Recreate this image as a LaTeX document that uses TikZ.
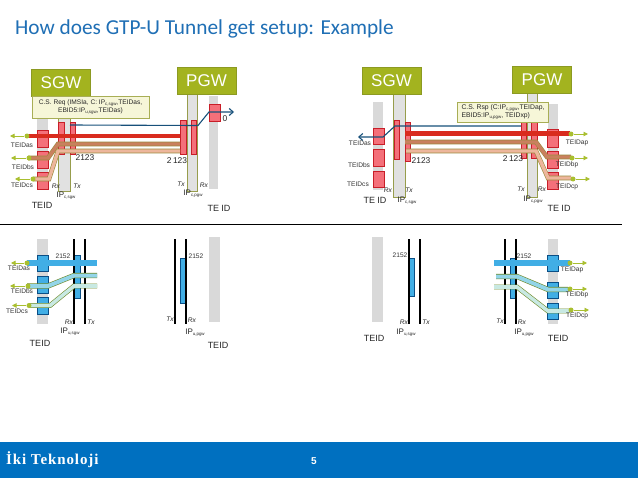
\documentclass[tikz,border=0pt]{standalone}
\usepackage{fontspec}
\setmainfont{Liberation Sans}
\newfontfamily\titlefont{Carlito}
\newfontfamily\footfont[LetterSpace=6]{Liberation Serif}
\usetikzlibrary{arrows.meta}
\definecolor{olivefill}{HTML}{A3B31F}
\definecolor{oliveedge}{HTML}{8C9A22}
\definecolor{noteedge}{HTML}{A8AE55}
\definecolor{notefill}{HTML}{F6F6D8}
\definecolor{redfill}{HTML}{F4707A}
\definecolor{rededge}{HTML}{C81E28}
\definecolor{redband}{HTML}{D92B1E}
\definecolor{brownband}{HTML}{C9805E}
\definecolor{peachband}{HTML}{EDB69C}
\definecolor{bandedge}{HTML}{9A8A3C}
\definecolor{bluefill}{HTML}{41AEE5}
\definecolor{blueedge}{HTML}{0A4F86}
\definecolor{band2}{HTML}{93D5E8}
\definecolor{band3}{HTML}{C8E9E2}
\definecolor{greenedge}{HTML}{6F8A2A}
\definecolor{grayfill}{HTML}{D9D9D9}
\definecolor{navyline}{HTML}{17507A}
\definecolor{arrowgreen}{HTML}{A9BF2F}
\definecolor{footblue}{HTML}{0070C0}
\definecolor{titleblue}{HTML}{1F6FB5}
\tikzset{
  gw/.style={draw=oliveedge,line width=.8pt,fill=olivefill,text=white,font=\fontsize{17}{17}\selectfont,inner sep=0pt,minimum width=59pt,minimum height=27pt},
  note/.style={draw=noteedge,line width=.6pt,fill=notefill,font=\fontsize{6.6}{8.4}\selectfont,inner sep=1pt,align=center,text=black!85},
  lab/.style={font=\fontsize{6.6}{7}\selectfont,inner sep=0pt,text=black!80},
  num/.style={font=\fontsize{8.4}{9}\selectfont,inner sep=0pt,text=black!85},
  numsm/.style={font=\fontsize{6.6}{7}\selectfont,inner sep=0pt,text=black!80},
  teid/.style={font=\fontsize{9}{10}\selectfont,inner sep=0pt,text=black!85},
  ip/.style={font=\fontsize{8}{9}\selectfont,inner sep=0pt,text=black!85},
  rxtx/.style={font=\fontsize{6.6}{7}\itshape\selectfont,inner sep=0pt,text=black!85},
  graybar/.style={fill=grayfill,draw=none},
  ipbar/.style={fill=grayfill!80!white,draw=noteedge!90!black,line width=.6pt},
  redrect/.style={fill=redfill,draw=rededge,line width=1pt},
  bluerect/.style={fill=bluefill,draw=blueedge,line width=1pt},
  blackline/.style={draw=black,line width=1.1pt},
  bandA/.style={draw=redband,line width=4.6pt},
  bandB/.style={preaction={draw=bandedge,line width=4.6pt},draw=brownband,line width=3.4pt},
  bandC/.style={preaction={draw=bandedge,line width=4.6pt},draw=peachband,line width=3.4pt},
  bandD/.style={preaction={draw=greenedge,line width=6.4pt},draw=bluefill,line width=5.2pt},
  bandE/.style={preaction={draw=greenedge,line width=5.2pt},draw=band2,line width=4pt},
  bandF/.style={preaction={draw=greenedge,line width=4.8pt},draw=band3,line width=3.6pt},
  gout/.style={draw=arrowgreen,line width=.9pt,-{Triangle[length=4.5pt,width=4.5pt]}},
  dot/.style={circle,fill=arrowgreen,draw=none,inner sep=0pt,minimum size=5pt},
  navy/.style={draw=navyline,line width=1.1pt},
}
\newcommand{\subip}[1]{IP\raisebox{-1.2pt}{\fontsize{4.4}{5}\selectfont #1}}
\begin{document}
\begin{tikzpicture}[x=1pt,y=-1pt]
\useasboundingbox (0,0) rectangle (638,479);
\fill[white] (0,0) rectangle (638,479);
\node[anchor=west,inner sep=0pt,text=titleblue,font=\titlefont\fontsize{21.3}{22}\selectfont] (title) at (15,29) {How does GTP-U Tunnel get setup: Example};
\draw[black,line width=1pt] (0,224) coordinate (sepL) -- (622,224) coordinate (sepR);
\fill[footblue] (0,441.5) rectangle (638,478);
\node[anchor=west,inner sep=0pt,text=white,font=\footfont\bfseries\fontsize{15}{16}\selectfont] (foot) at (6,460) {İki Teknoloji};
\node[inner sep=0pt,text=white,font=\bfseries\fontsize{10}{11}\selectfont] (page) at (314,461) {5};
% ===== top left =====
\fill[graybar] (37,118) rectangle (48,189);
\fill[graybar] (209,96) rectangle (218,189);
\filldraw[ipbar] (58,96) rectangle (70,191);
\filldraw[ipbar] (187,94) rectangle (197,191);
\filldraw[redrect] (37,130) rectangle (48,147);
\filldraw[redrect] (37,151) rectangle (48,168);
\filldraw[redrect] (37,172) rectangle (48,189);
\filldraw[redrect] (58.5,122) rectangle (64,154);
\filldraw[redrect] (70,122) rectangle (75,154);
\filldraw[redrect] (180.5,120) rectangle (186,154);
\filldraw[redrect] (191,120) rectangle (196.5,154);
\filldraw[redrect] (209,104) rectangle (220,121);
\coordinate (a1) at (27,136); \coordinate (a2) at (180,136);
\coordinate (b0) at (28,158); \coordinate (b1) at (48,158); \coordinate (b2) at (58,144); \coordinate (b3) at (180,144);
\coordinate (c0) at (33,179); \coordinate (c1) at (49,179); \coordinate (c2) at (58,151); \coordinate (c3) at (180,151);
\draw[bandA] (a1) -- (a2);
\draw[bandB] (b0) -- (b1) -- (b2) -- (b3);
\draw[bandC] (c0) -- (c1) -- (c2) -- (c3);
\coordinate (n0) at (70,125); \coordinate (n1) at (198,125.5); \coordinate (n2) at (209,112); \coordinate (n3) at (234,112);
\draw[navy,-{Straight Barb[length=4pt,width=7pt]}] (n0) -- (n1) -- (n2) -- (n3);
\node[dot] (d1) at (27,136) {}; \node[dot] (d2) at (29,158) {}; \node[dot] (d3) at (33,179) {};
\coordinate (e1) at (10,136); \coordinate (e2) at (11,158); \coordinate (e3) at (15,179);
\draw[gout] (d1) -- (e1); \draw[gout] (d2) -- (e2); \draw[gout] (d3) -- (e3);
\node[gw] (sgwA) at (61,82.5) {SGW};
\node[gw] (pgwA) at (206.5,80.5) {PGW};
\node[note,minimum width=117pt,minimum height=22pt] (noteA) at (90.5,107) {C.S. Req (IMSIa, C: \subip{c,sgw},TEIDas,\\EBID5:\subip{u,sgw},TEIDas)};
\node[lab] (l1) at (22,145) {TEIDas};
\node[lab] (l2) at (23,167) {TEIDbs};
\node[lab] (l3) at (22,185) {TEIDcs};
\node[num] (l4) at (85,158) {2123};
\node[num] (l5) at (177,161) {2\,123};
\node[num] (l6) at (225,119) {0};
\node[rxtx] (l7) at (56,186) {Rx}; \node[rxtx] (l8) at (77,186) {Tx};
\node[rxtx] (l9) at (181,184) {Tx}; \node[rxtx] (l10) at (204,185) {Rx};
\node[ip] (l11) at (66,196) {\subip{c,sgw}};
\node[ip] (l12) at (193,194) {\subip{c,pgw}};
\node[teid] (l13) at (42,205) {TEID};
\node[teid] (l14) at (219,208) {TE ID};
% ===== top right =====
\fill[graybar] (373,102) rectangle (383,190);
\fill[graybar] (548,104) rectangle (558,190);
\filldraw[ipbar] (393,94) rectangle (405,197);
\filldraw[ipbar] (527,93) rectangle (537,197);
\filldraw[redrect] (373,128) rectangle (384,144);
\filldraw[redrect] (373,149) rectangle (384,166);
\filldraw[redrect] (373,171) rectangle (384,187);
\filldraw[redrect] (394,120) rectangle (399,159);
\filldraw[redrect] (405,122) rectangle (410,161);
\filldraw[redrect] (521,122) rectangle (526,158);
\filldraw[redrect] (531.5,122) rectangle (537,158);
\filldraw[redrect] (547.5,129) rectangle (558.5,147);
\filldraw[redrect] (547.5,151) rectangle (558.5,168);
\filldraw[redrect] (547.5,172) rectangle (558.5,189);
\coordinate (f1) at (405,133.5); \coordinate (f2) at (570,133.5);
\coordinate (g0) at (405,142); \coordinate (g1) at (536,142); \coordinate (g2) at (547,157); \coordinate (g3) at (571,157);
\coordinate (h0) at (406,151); \coordinate (h1) at (536,151); \coordinate (h2) at (548,178); \coordinate (h3) at (571,178);
\draw[bandA] (f1) -- (f2);
\draw[bandB] (g0) -- (g1) -- (g2) -- (g3);
\draw[bandC] (h0) -- (h1) -- (h2) -- (h3);
\coordinate (m0) at (521,126); \coordinate (m1) at (395,126); \coordinate (m2) at (383,137); \coordinate (m3) at (358,137);
\draw[navy,-{Straight Barb[length=4pt,width=7pt]}] (m0) -- (m1) -- (m2) -- (m3);
\node[dot] (d4) at (571,134) {}; \node[dot] (d5) at (572,158) {}; \node[dot] (d6) at (573,179) {};
\coordinate (e4) at (588,134); \coordinate (e5) at (588,158); \coordinate (e6) at (590,179);
\draw[gout] (d4) -- (e4); \draw[gout] (d5) -- (e5); \draw[gout] (d6) -- (e6);
\node[gw] (sgwB) at (391.5,80.5) {SGW};
\node[gw] (pgwB) at (542,79.5) {PGW};
\node[note,minimum width=91pt,minimum height=20pt,align=left,font=\fontsize{6.8}{8.6}\selectfont] (noteB) at (503,112) {C.S. Rsp (C:\subip{c,pgw},TEIDap,\\EBID5:\subip{u,pgw}, TEIDxp)};
\node[lab] (r1) at (360,143) {TEIDas};
\node[lab] (r2) at (359,165) {TEIDbs};
\node[lab] (r3) at (358,184) {TEIDcs};
\node[num] (r4) at (421,161) {2123};
\node[num] (r5) at (513,159) {2\,123};
\node[rxtx] (r6) at (388,190) {Rx}; \node[rxtx] (r7) at (409,190) {Tx};
\node[rxtx] (r8) at (521,189) {Tx}; \node[rxtx] (r9) at (542,189) {Rx};
\node[ip] (r10) at (407,201) {\subip{c,sgw}};
\node[ip] (r11) at (533,200) {\subip{c,pgw}};
\node[teid] (r12) at (375,200) {TE ID};
\node[teid] (r13) at (559,208) {TE ID};
\node[lab] (r14) at (577,143) {TEIDap};
\node[lab] (r15) at (567,165) {TEIDbp};
\node[lab] (r16) at (567,187) {TEIDcp};
% ===== bottom left =====
\fill[graybar] (37,239) rectangle (48,324);
\fill[graybar] (209,237) rectangle (220,322);
\filldraw[bluerect] (37.5,255) rectangle (48,271);
\filldraw[bluerect] (37.5,276) rectangle (48,293);
\filldraw[bluerect] (37.5,297) rectangle (48,314);
\filldraw[bluerect] (74,255) rectangle (80,298);
\filldraw[bluerect] (180.5,258) rectangle (186,303);
\draw[blackline] (74,239) coordinate (p1) -- (74,324) coordinate (p2);
\draw[blackline] (85,239) coordinate (p3) -- (85,324) coordinate (p4);
\draw[blackline] (175,239) coordinate (p5) -- (175,324) coordinate (p6);
\draw[blackline] (186,239) coordinate (p7) -- (186,324) coordinate (p8);
\coordinate (i1) at (27,263); \coordinate (i2) at (97,263);
\coordinate (j0) at (27,286); \coordinate (j1) at (48,286); \coordinate (j2) at (74,275.5); \coordinate (j3) at (97,275.5);
\coordinate (k0) at (29,305.5); \coordinate (k1) at (50,305.5); \coordinate (k2) at (74,286); \coordinate (k3) at (97,286);
\draw[bandF] (k0) -- (k1) -- (k2) -- (k3);
\draw[bandE] (j0) -- (j1) -- (j2) -- (j3);
\draw[bandD] (i1) -- (i2);
\node[dot] (d7) at (27,263) {}; \node[dot] (d8) at (28,286) {}; \node[dot] (d9) at (29,305.5) {};
\coordinate (e7) at (11,263); \coordinate (e8) at (10,286); \coordinate (e9) at (12,305.5);
\draw[gout] (d7) -- (e7); \draw[gout] (d8) -- (e8); \draw[gout] (d9) -- (e9);
\node[lab] (s1) at (19,268.5) {TEIDas};
\node[lab] (s2) at (22,291) {TEIDbs};
\node[lab] (s3) at (17,311) {TEIDcs};
\node[numsm] (s4) at (63,256) {2152};
\node[numsm] (s5) at (196,256) {2152};
\node[rxtx] (s6) at (69,322) {Rx}; \node[rxtx] (s7) at (91,322) {Tx};
\node[rxtx] (s8) at (170,319) {Tx}; \node[rxtx] (s9) at (192,320) {Rx};
\node[ip] (s10) at (70,332) {\subip{u,sgw}};
\node[ip] (s11) at (195,333) {\subip{u,pgw}};
\node[teid] (s12) at (40,343) {TEID};
\node[teid] (s13) at (218,345) {TEID};
% ===== bottom right =====
\fill[graybar] (372,237) rectangle (383,322);
\fill[graybar] (548,239) rectangle (558,324);
\filldraw[bluerect] (409,258) rectangle (414,296);
\filldraw[bluerect] (510,258) rectangle (516,298);
\filldraw[bluerect] (547.5,255) rectangle (558.5,271);
\filldraw[bluerect] (547.5,282) rectangle (558.5,298);
\filldraw[bluerect] (547.5,303) rectangle (558.5,319);
\draw[blackline] (409,239) coordinate (q1) -- (409,324) coordinate (q2);
\draw[blackline] (420,239) coordinate (q3) -- (420,324) coordinate (q4);
\draw[blackline] (505,239) coordinate (q5) -- (505,324) coordinate (q6);
\draw[blackline] (516,239) coordinate (q7) -- (516,324) coordinate (q8);
\coordinate (t1) at (494,263); \coordinate (t2) at (570,263);
\coordinate (u0) at (496,276.5); \coordinate (u1) at (517,276.5); \coordinate (u2) at (548,289.5); \coordinate (u3) at (568,289.5);
\coordinate (v0) at (494,287); \coordinate (v1) at (517,287); \coordinate (v2) at (548,311); \coordinate (v3) at (569,311);
\draw[bandF] (v0) -- (v1) -- (v2) -- (v3);
\draw[bandE] (u0) -- (u1) -- (u2) -- (u3);
\draw[bandD] (t1) -- (t2);
\node[dot] (d10) at (570,263) {}; \node[dot] (d11) at (570,289) {}; \node[dot] (d12) at (571,310) {};
\coordinate (e10) at (587,263); \coordinate (e11) at (587,289); \coordinate (e12) at (589,310);
\draw[gout] (d10) -- (e10); \draw[gout] (d11) -- (e11); \draw[gout] (d12) -- (e12);
\node[lab] (w1) at (572,270) {TEIDap};
\node[lab] (w2) at (577,295) {TEIDbp};
\node[lab] (w3) at (577,316) {TEIDcp};
\node[numsm] (w4) at (400,255) {2152};
\node[numsm] (w5) at (524,256) {2152};
\node[rxtx] (w6) at (404,322) {Rx}; \node[rxtx] (w7) at (426,322) {Tx};
\node[rxtx] (w8) at (500,321) {Tx}; \node[rxtx] (w9) at (522,322) {Rx};
\node[ip] (w10) at (406,333) {\subip{u,sgw}};
\node[ip] (w11) at (524,333) {\subip{u,pgw}};
\node[teid] (w12) at (374,338) {TEID};
\node[teid] (w13) at (558,338) {TEID};
\end{tikzpicture}
\end{document}
